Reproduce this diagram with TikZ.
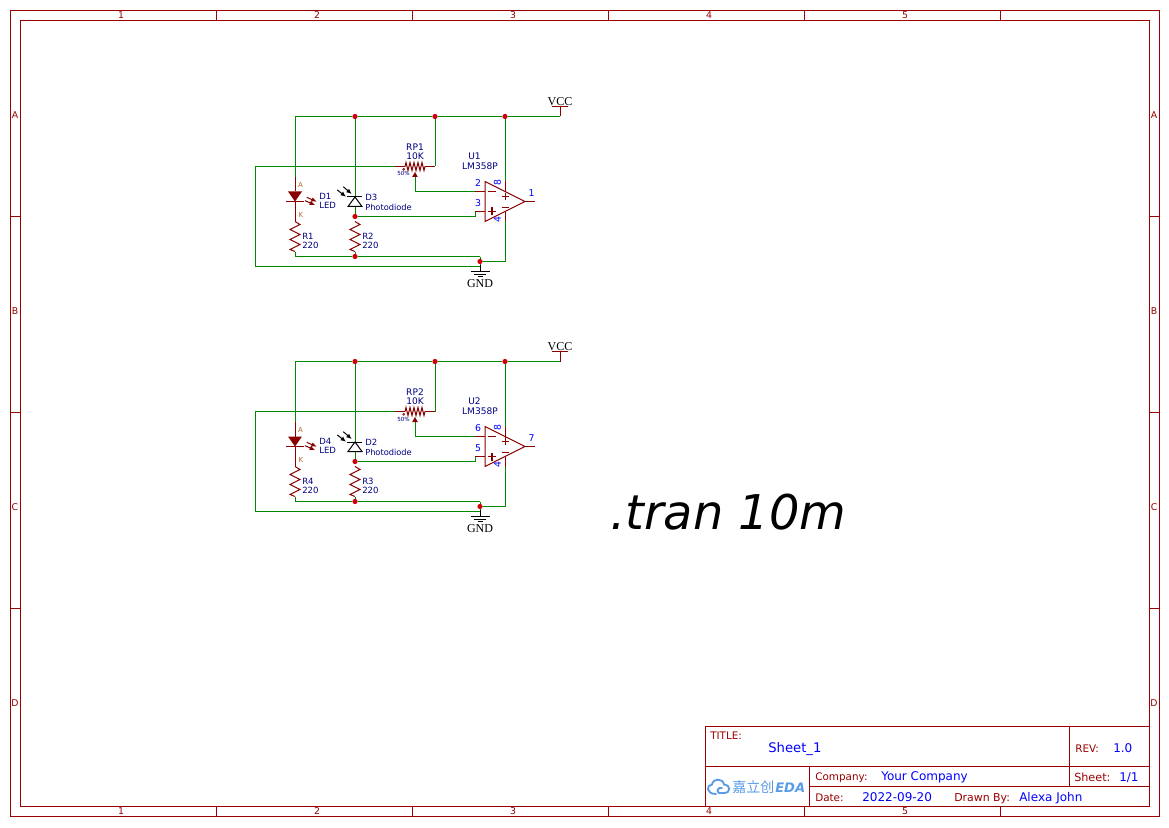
\documentclass[tikz,border=0pt]{standalone}
\usepackage{fontspec}
\setmainfont{DejaVu Sans}
\newfontfamily\vccfont{Liberation Serif}
\newfontfamily\cjkfont{Noto Sans CJK SC}
\usepackage{xcolor}
\definecolor{wirec}{HTML}{008800}
\definecolor{partc}{HTML}{880000}
\definecolor{framec}{HTML}{990000}
\definecolor{dotc}{HTML}{CC0000}
\definecolor{labelc}{HTML}{000080}
\definecolor{pinc}{HTML}{0000FF}
\definecolor{anodec}{HTML}{B0652C}
\definecolor{logoc}{HTML}{5A9BE6}
\usetikzlibrary{arrows.meta}
\tikzset{
  wire/.style={draw=wirec,line width=0.75pt},
  part/.style={draw=partc,line width=0.75pt},
  frameline/.style={draw=framec,line width=0.75pt},
  jdot/.style={circle,fill=dotc,inner sep=0pt,minimum size=3.9pt},
  lbl/.style={text=labelc,font=\fontsize{6.4}{7}\selectfont,inner sep=0pt},
  biglbl/.style={text=labelc,font=\fontsize{6.8}{8}\selectfont,inner sep=0pt},
  pinlbl/.style={text=pinc,font=\fontsize{7}{8}\selectfont,inner sep=0pt},
  tinylbl/.style={text=anodec,font=\fontsize{5.2}{6}\selectfont,inner sep=0pt},
  powerlbl/.style={text=black,font=\vccfont\fontsize{9}{10}\selectfont,inner sep=0pt},
  marklbl/.style={text=framec,font=\fontsize{7}{8}\selectfont,inner sep=0pt},
  keylbl/.style={text=framec,font=\fontsize{7.8}{9}\selectfont,inner sep=0pt,anchor=base west},
  vallbl/.style={text=pinc,font=\fontsize{9}{10}\selectfont,inner sep=0pt,anchor=base west},
  beam/.style={line width=0.75pt,-{Latex[length=4pt,width=3.5pt]}},
  resv/.pic={\draw[part] (0,0) -- (5,3) -- (-5,8) -- (5,13) -- (-5,18) -- (5,23) -- (-5,28) -- (0,30);},
  resh/.pic={\draw[part] (0,0) -- (1,-4) -- (3,4) -- (5,-4) -- (7,4) -- (9,-4) -- (11,4) -- (13,-4) -- (15,4) -- (17,-4) -- (19,4) -- (20,0);}
}
\begin{document}
\begin{tikzpicture}[x=0.75pt,y=-0.75pt]
  \useasboundingbox (0,0) rectangle (1169,827);
  % sheet frame
  \draw[frameline] (10,10.5) rectangle (1159,816.5);
  \draw[frameline] (20,20.5) rectangle (1149,806.5);
  \foreach \x in {216,412,608,804,1000} {
    \draw[frameline] (\x,10.5) -- (\x,20.5);
    \draw[frameline] (\x,806.5) -- (\x,816.5);
  }
  \foreach \y in {216.5,412.5,608.5} {
    \draw[frameline] (10,\y) -- (20,\y);
    \draw[frameline] (1149,\y) -- (1159,\y);
  }
  \foreach \i/\x in {1/121,2/317,3/513,4/709,5/905} {
    \node[marklbl] (top\i) at (\x,15.5) {\i};
    \node[marklbl] (bot\i) at (\x,811.5) {\i};
  }
  \foreach \i/\y in {A/115.5,B/311.5,C/507.5,D/703.5} {
    \node[marklbl] (left\i) at (15,\y) {\i};
    \node[marklbl] (right\i) at (1154,\y) {\i};
  }

  % the two sensor circuits
  \foreach \n/\oy/\rp/\uu/\pa/\pb/\po/\da/\db/\ra/\rb in {1/0/RP1/U1/2/3/1/D1/D3/R1/R2,2/245/RP2/U2/6/5/7/D4/D2/R4/R3} {
  \begin{scope}[shift={(0,\oy)}]
    \node[jdot] (jtopa\n) at (355,116.5) {};
    \node[jdot] (jtopb\n) at (435,116.5) {};
    \node[jdot] (jtopc\n) at (505,116.5) {};
    \node[jdot] (jpd\n) at (355,216.5) {};
    \node[jdot] (jbot\n) at (355,256.5) {};
    \node[jdot] (jgnd\n) at (480,261.5) {};
    \coordinate (vcc\n) at (560,116.5);
    \coordinate (vcctop\n) at (560,106.5);
    \coordinate (ledtop\n) at (295,116.5);
    \coordinate (ledpin\n) at (295,177);
    \coordinate (ledrt\n) at (295,256.5);
    \coordinate (rone\n) at (295,251.5);
    \coordinate (rtwo\n) at (355,251.5);
    \coordinate (pdcat\n) at (355,197);
    \coordinate (pdan\n) at (355,206.5);
    \coordinate (rpl\n) at (395,166.5);
    \coordinate (rpr\n) at (435,166.5);
    \coordinate (wiper\n) at (415,176.5);
    \coordinate (inm\n) at (475,191.5);
    \coordinate (inp\n) at (475,211.5);
    \coordinate (pvcc\n) at (505,181.5);
    \coordinate (pgnd\n) at (505,221.5);
    \coordinate (gndtop\n) at (480,256.5);
    \coordinate (gndsym\n) at (480,265);
    \coordinate (gndend\n) at (480,271.5);
    \coordinate (loopa\n) at (255,166.5);
    \coordinate (loopb\n) at (255,266.5);
    \coordinate (loopc\n) at (480,266.5);
    % wires
    \draw[wire] (ledtop\n) -- (jtopa\n) -- (jtopb\n) -- (jtopc\n) -- (vcc\n);
    \draw[wire] (ledtop\n) -- (ledpin\n);
    \draw[wire] (jtopa\n) -- (pdcat\n);
    \draw[wire] (pdan\n) -- (jpd\n);
    \draw[wire] (jtopb\n) -- (rpr\n);
    \draw[wire] (jtopc\n) -- (pvcc\n);
    \draw[wire] (rpl\n) -- (loopa\n) -- (loopb\n) -- (loopc\n);
    \draw[wire] (wiper\n) |- (inm\n);
    \draw[wire] (jpd\n) -| (inp\n);
    \draw[wire] (rone\n) -- (ledrt\n) -- (jbot\n) -- (gndtop\n);
    \draw[wire] (rtwo\n) -- (jbot\n);
    \draw[wire] (gndtop\n) -- (jgnd\n) -- (gndsym\n);
    \draw[wire] (jgnd\n) -| (pgnd\n);
    \draw[part] (vcc\n) -- (vcctop\n) (552,106.5) -- (568,106.5);
    % ground
    \draw[line width=0.75pt] (470.5,271.5) -- (489.5,271.5) (474,274.5) -- (486,274.5) (477.5,276.8) -- (482.5,276.8);
    \draw[line width=0.75pt] (gndsym\n) -- (gndend\n);
    \node[powerlbl,anchor=base] (vcclbl\n) at (560,105.5) {VCC};
    \node[powerlbl,anchor=base] (gndlbl\n) at (480,287.5) {GND};
    % led
    \draw[part] (ledpin\n) -- (295,191.5) (295,201.5) -- (295,222);
    \fill[partc] (288,191.5) -- (302,191.5) -- (295,201.5) -- cycle;
    \draw[part] (286,201.5) -- (304,201.5);
    \draw[beam,partc] (306.7,197.3) -- (316.7,201.7);
    \draw[beam,partc] (305,200.7) -- (315,205);
    \node[tinylbl] (ledA\n) at (300.5,184.5) {A};
    \node[tinylbl] (ledK\n) at (301,214.5) {K};
    \node[lbl,anchor=base west] (dname\n) at (319,199.8) {\da};
    \node[lbl,anchor=base west] (dval\n) at (319,208.5) {LED};
    % photodiode
    \draw[line width=0.75pt] (347,197) -- (362,197);
    \draw[line width=0.75pt] (355,197) -- (348,206.5) -- (362,206.5) -- cycle;
    \draw[beam] (337.3,190) -- (346,196.7);
    \draw[beam] (343.3,186.7) -- (351.7,194);
    \node[lbl,anchor=base west] (pname\n) at (365,200.5) {\db};
    \node[lbl,anchor=base west,font=\fontsize{6.2}{7}\selectfont] (pval\n) at (365,210) {Photodiode};
    % resistors
    \path (295,221.5) pic {resv};
    \path (355,221.5) pic {resv};
    \node[lbl,anchor=base west] (roname\n) at (302,239.5) {\ra};
    \node[lbl,anchor=base west] (roval\n) at (302,248.5) {220};
    \node[lbl,anchor=base west] (rtname\n) at (362,239.5) {\rb};
    \node[lbl,anchor=base west] (rtval\n) at (362,248.5) {220};
    % potentiometer
    \draw[part] (rpl\n) -- (405,166.5) (425,166.5) -- (rpr\n);
    \path (405,166.5) pic {resh};
    \fill[partc] (415,172) -- (417.8,177) -- (412.2,177) -- cycle;
    \draw[partc,line width=0.5pt] (403.7,169.3) circle (1);
    \node[biglbl,anchor=base] (rpname\n) at (415,150.3) {\rp};
    \node[biglbl,anchor=base] (rpval\n) at (415,159.3) {10K};
    \node[lbl,font=\fontsize{4.2}{5}\selectfont,anchor=base] (rppct\n) at (403.5,176) {50\%};
    % op amp
    \draw[part] (485,181.5) -- (525,201.5) -- (485,221.5) -- cycle;
    \draw[part] (inm\n) -- (485,191.5) (inp\n) -- (485,211.5);
    \draw[part] (pvcc\n) -- (505,192.5) (505,211.5) -- (pgnd\n) (525,201.5) -- (535,201.5);
    \draw[partc,line width=1.1pt] (488,191.5) -- (496,191.5) (488,211.5) -- (496,211.5) (492,207.5) -- (492,215.5);
    \draw[part] (501.5,196.5) -- (508.5,196.5) (505,193) -- (505,200) (501.5,207.5) -- (508.5,207.5);
    \node[pinlbl,anchor=base] (pinm\n) at (478,186.5) {\pa};
    \node[pinlbl,anchor=base] (pinp\n) at (478,206.5) {\pb};
    \node[pinlbl,anchor=base] (pino\n) at (531.5,196.5) {\po};
    \node[pinlbl,rotate=90] (pinv\n) at (497.5,183) {8};
    \node[pinlbl,rotate=90] (ping\n) at (497.5,219.5) {4};
    \node[biglbl,anchor=base] (uname\n) at (474.5,159.5) {\uu};
    \node[biglbl,anchor=base] (uval\n) at (480,169.5) {LM358P};
  \end{scope}
  }

  \node[inner sep=0pt,anchor=base west,font=\itshape\fontsize{35.9}{40}\selectfont] (tran) at (610,529.5) {.tran 10m};

  % title block
  \draw[frameline] (705,726.5) rectangle (1149,806.5);
  \draw[frameline] (705,766.5) -- (1149,766.5);
  \draw[frameline] (809,786.5) -- (1149,786.5);
  \draw[frameline] (809,766.5) -- (809,806.5);
  \draw[frameline] (1069,726.5) -- (1069,786.5);
  \node[keylbl] (titlek) at (710,739.2) {TITLE:};
  \node[vallbl,font=\fontsize{9.9}{11}\selectfont] (titlev) at (768,752.2) {Sheet\_1};
  \node[keylbl] (revk) at (1075,752.5) {REV:};
  \node[vallbl] (revv) at (1113,752.5) {1.0};
  \node[keylbl] (compk) at (815,780) {Company:};
  \node[vallbl] (compv) at (881,780) {Your Company};
  \node[keylbl,font=\fontsize{8.4}{9}\selectfont] (sheetk) at (1074,781.5) {Sheet:};
  \node[vallbl] (sheetv) at (1119,781.5) {1/1};
  \node[keylbl] (datek) at (815,801.5) {Date:};
  \node[vallbl] (datev) at (862,801.5) {2022-09-20};
  \node[keylbl,font=\fontsize{8.2}{9}\selectfont] (drawnk) at (954,801.5) {Drawn By:};
  \node[vallbl] (drawnv) at (1019,801.5) {Alexa John};
  % logo
  \draw[logoc,line width=1.4pt,line cap=round] (716,794) .. controls (706,794) and (706,785) .. (712,784.5) .. controls (713,778) and (723,778) .. (724,784.5) .. controls (731,785) and (731,793) .. (724,793) -- (719,793) .. controls (716,791) and (718,787) .. (722,788);
  \node[inner sep=0pt,anchor=base west,text=logoc,font=\cjkfont\fontsize{10.5}{12}\selectfont] (logocn) at (732,792) {嘉立创};
  \node[inner sep=0pt,anchor=base west,text=logoc,font=\bfseries\itshape\fontsize{9.8}{12}\selectfont] (logoen) at (775,792) {EDA};
\end{tikzpicture}
\end{document}
